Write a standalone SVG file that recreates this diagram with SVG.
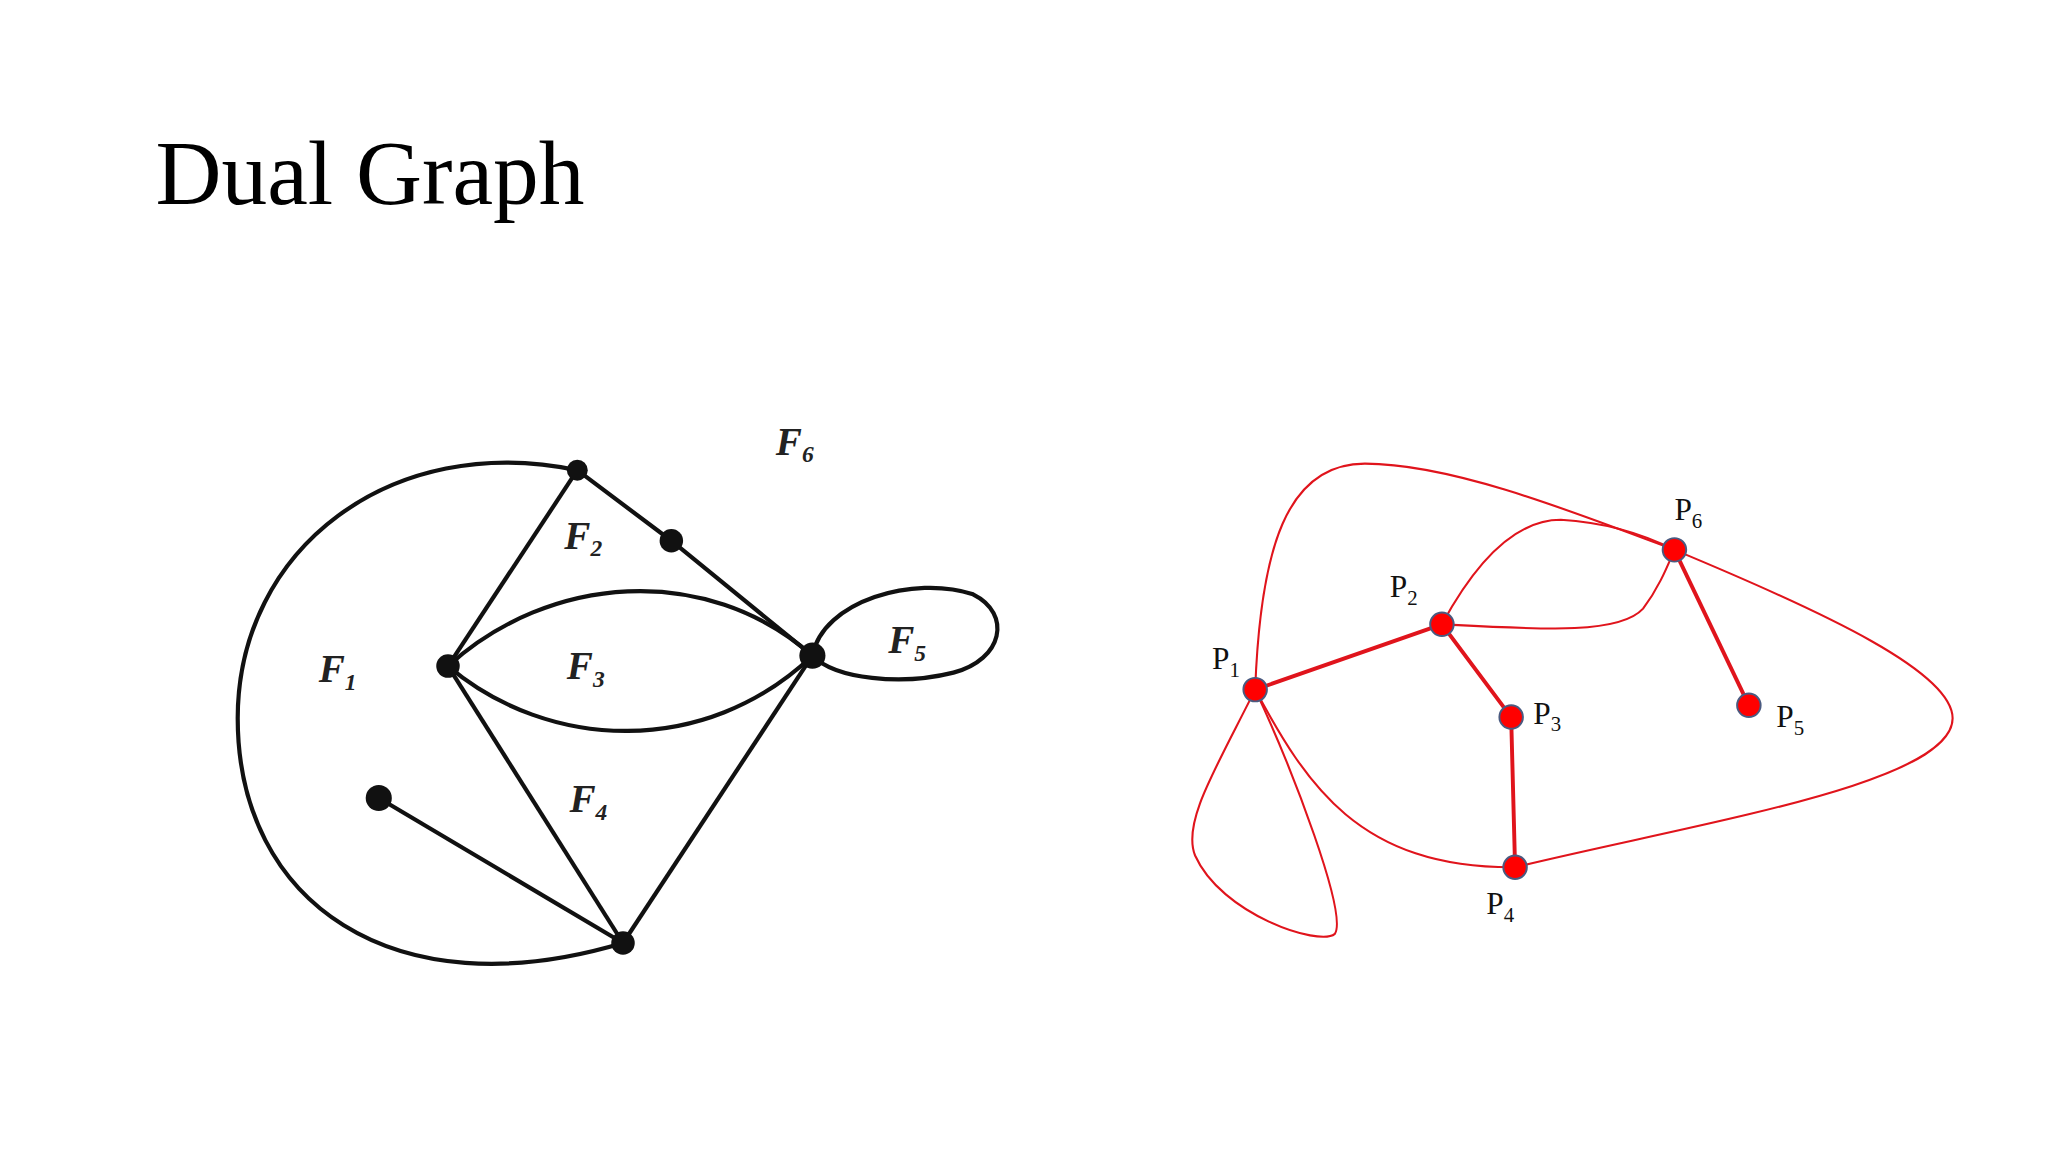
<svg xmlns="http://www.w3.org/2000/svg" width="2048" height="1152" viewBox="0 0 2048 1152">
<style>
.k{fill:none;stroke:#111;stroke-width:3.2}
.r{fill:none;stroke:#e0141c;stroke-width:1.6}
.rt{fill:none;stroke:#e0141c;stroke-width:3}
.dot{fill:#111}
.pn{fill:#ff0000;stroke:#4a5a80;stroke-width:1.5}
.f{font-family:"Liberation Serif",serif;font-style:italic;font-weight:bold;font-size:30px;fill:#222}
.p{font-family:"Liberation Serif",serif;font-size:24px;fill:#111}
</style>
<rect width="2048" height="1152" fill="#fff"/>
<g transform="scale(1.3061)">
<text x="119" y="156" font-family="Liberation Serif,serif" font-size="70" fill="#000">Dual Graph</text>
<g id="left-connectors">
<path class="k" d="M442,360 C300,330 182,420 182,550 C182,690 300,775 477,722"/>
<path class="k" d="M442,360 L343,510"/>
<path class="k" d="M442,360 L514,414 L622,502"/>
<path class="k" d="M343,510 C420,440 540,430 622,502"/>
<path class="k" d="M343,510 C420,575 540,580 622,502"/>
<path class="k" d="M343,510 L477,722"/>
<path class="k" d="M290,611 L477,722"/>
<path class="k" d="M622,502 L477,722"/>
<path class="k" d="M622,502 C630,460 700,440 745,455 C775,470 768,505 730,515 C690,525 640,520 622,502"/>
</g>
<g id="left-nodes">
<circle class="dot" cx="442" cy="360" r="8"/>
<circle class="dot" cx="514" cy="414" r="9"/>
<circle class="dot" cx="622" cy="502" r="10"/>
<circle class="dot" cx="343" cy="510" r="9"/>
<circle class="dot" cx="290" cy="611" r="10"/>
<circle class="dot" cx="477" cy="722" r="9"/>
</g>
<g id="face-labels">
<text class="f" x="244" y="522">F<tspan font-size="18" dy="6">1</tspan></text>
<text class="f" x="432" y="420">F<tspan font-size="18" dy="6">2</tspan></text>
<text class="f" x="434" y="520">F<tspan font-size="18" dy="6">3</tspan></text>
<text class="f" x="436" y="622">F<tspan font-size="18" dy="6">4</tspan></text>
<text class="f" x="680" y="500">F<tspan font-size="18" dy="6">5</tspan></text>
<text class="f" x="594" y="348">F<tspan font-size="18" dy="6">6</tspan></text>
</g>
<g id="right-connectors">
<path class="rt" d="M961,528 L1104,478 L1157,549 L1160,664"/>
<path class="rt" d="M1282,421 L1339,540"/>
<path class="r" d="M961,528 C965,420 985,355 1045,355 C1110,355 1200,390 1282,421"/>
<path class="r" d="M1104,478 C1130,430 1160,398 1195,398 C1230,400 1260,410 1282,421"/>
<path class="r" d="M1104,478 C1180,482 1240,486 1258,466 C1270,450 1276,435 1282,421"/>
<path class="r" d="M1282,421 C1400,470 1495,515 1495,550 C1495,600 1300,630 1160,664"/>
<path class="r" d="M961,528 C1000,600 1040,665 1160,664"/>
<path class="r" d="M961,528 C930,590 905,630 915,655 C935,700 1010,725 1022,715 C1032,700 990,590 961,528"/>
</g>
<g id="right-nodes">
<circle class="pn" cx="961" cy="528" r="9"/>
<circle class="pn" cx="1104" cy="478" r="9"/>
<circle class="pn" cx="1157" cy="549" r="9"/>
<circle class="pn" cx="1160" cy="664" r="9"/>
<circle class="pn" cx="1339" cy="540" r="9"/>
<circle class="pn" cx="1282" cy="421" r="9"/>
</g>
<g id="right-labels">
<text class="p" x="928" y="512">P<tspan font-size="16" dy="6">1</tspan></text>
<text class="p" x="1064" y="457">P<tspan font-size="16" dy="6">2</tspan></text>
<text class="p" x="1174" y="554">P<tspan font-size="16" dy="6">3</tspan></text>
<text class="p" x="1138" y="700">P<tspan font-size="16" dy="6">4</tspan></text>
<text class="p" x="1360" y="557">P<tspan font-size="16" dy="6">5</tspan></text>
<text class="p" x="1282" y="398">P<tspan font-size="16" dy="6">6</tspan></text>
</g>
</g>
</svg>
